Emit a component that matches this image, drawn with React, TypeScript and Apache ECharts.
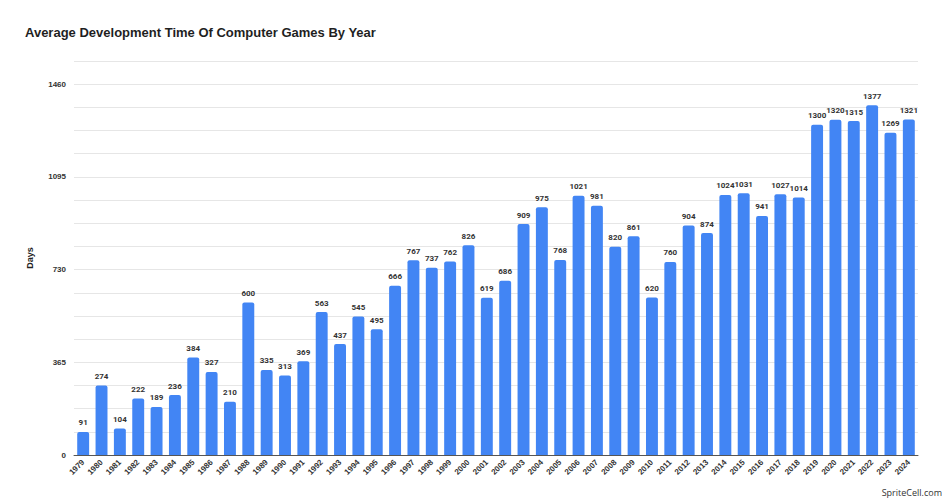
import React, { useEffect, useRef } from "react";
import * as echarts from "echarts";

const years = [
  "1979", "1980", "1981", "1982", "1983", "1984", "1985", "1986", "1987", "1988",
  "1989", "1990", "1991", "1992", "1993", "1994", "1995", "1996", "1997", "1998",
  "1999", "2000", "2001", "2002", "2003", "2004", "2005", "2006", "2007", "2008",
  "2009", "2010", "2011", "2012", "2013", "2014", "2015", "2016", "2017", "2018",
  "2019", "2020", "2021", "2022", "2023", "2024",
];

const days = [
  91, 274, 104, 222, 189, 236, 384, 327, 210, 600,
  335, 313, 369, 563, 437, 545, 495, 666, 767, 737,
  762, 826, 619, 686, 909, 975, 768, 1021, 981, 820,
  861, 620, 760, 904, 874, 1024, 1031, 941, 1027, 1014,
  1300, 1320, 1315, 1377, 1269, 1321,
];

const yMajorTicks = [0, 365, 730, 1095, 1460];
const yMax = 1551.25;
const yInterval = 91.25;

export default function App() {
  const ref = useRef<HTMLDivElement>(null);

  useEffect(() => {
    if (!ref.current) return;
    const chart = echarts.init(ref.current, null, { renderer: "svg" });
    chart.setOption({
      animation: false,
      backgroundColor: "#ffffff",
      title: {
        text: "Average Development Time Of Computer Games By Year",
        left: 20,
        top: 21,
        textStyle: {
          fontFamily: "Liberation Sans, Arial, sans-serif",
          fontWeight: "bold",
          fontSize: 13,
          color: "#1f1f1f",
        },
      },
      graphic: [
        {
          type: "text",
          right: 4,
          bottom: 3,
          style: {
            text: "SpriteCell.com",
            font: "9px 'Open Sans', sans-serif",
            fill: "#333333",
          },
        },
      ],
      grid: { left: 74, right: 28, top: 61, bottom: 45 },
      xAxis: {
        type: "category",
        data: years,
        axisLine: { lineStyle: { color: "#555555", width: 1 } },
        axisTick: { show: false },
        axisLabel: {
          rotate: 45,
          interval: 0,
          margin: 6,
          fontFamily: "Liberation Sans, Arial, sans-serif",
          fontWeight: "bold",
          fontSize: 8,
          color: "#333333",
        },
      },
      yAxis: {
        type: "value",
        min: 0,
        max: yMax,
        interval: yInterval,
        name: "Days",
        nameLocation: "middle",
        nameGap: 40,
        nameTextStyle: {
          fontFamily: "Liberation Sans, Arial, sans-serif",
          fontWeight: "bold",
          fontSize: 9,
          color: "#222222",
        },
        axisLine: { show: false },
        axisTick: { show: false },
        axisLabel: {
          margin: 8,
          fontFamily: "Liberation Sans, Arial, sans-serif",
          fontWeight: "bold",
          fontSize: 8,
          color: "#333333",
          formatter: (v: number) => {
            const r = Math.round(v * 100) / 100;
            return yMajorTicks.includes(r) ? String(r) : "";
          },
        },
        splitLine: { lineStyle: { color: "#e6e6e6", width: 1 } },
      },
      series: [
        {
          type: "bar",
          data: days,
          barCategoryGap: "35%",
          itemStyle: { color: "#4285F4", borderRadius: [2, 2, 0, 0] },
          label: {
            show: true,
            position: "top",
            distance: 5,
            fontFamily: "Roboto, sans-serif",
            fontWeight: "bold",
            fontSize: 8,
            color: "#333333",
          },
        },
      ],
    });
    return () => chart.dispose();
  }, []);

  return (
    <div
      ref={ref}
      style={{ position: "fixed", left: 0, top: 0, width: 946, height: 500 }}
    />
  );
}
